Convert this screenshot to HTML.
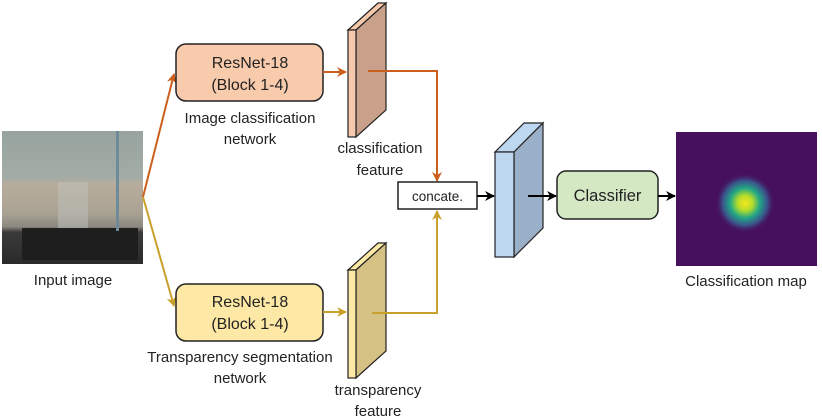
<!DOCTYPE html>
<html><head><meta charset="utf-8"><style>
html,body{margin:0;padding:0;background:#fff;}
svg{display:block;font-family:"Liberation Sans",sans-serif;}
</style></head><body>
<svg width="822" height="420" viewBox="0 0 822 420" xmlns="http://www.w3.org/2000/svg">
<defs>
<linearGradient id="ph" x1="0" y1="0" x2="0" y2="1">
<stop offset="0" stop-color="#98a4a0"/><stop offset="0.35" stop-color="#a3aca6"/>
<stop offset="0.4" stop-color="#b8ad9c"/><stop offset="0.62" stop-color="#a9a293"/>
<stop offset="0.72" stop-color="#8a877f"/><stop offset="0.76" stop-color="#3a3a3a"/>
<stop offset="1" stop-color="#2a2a2a"/></linearGradient>
<radialGradient id="blob" cx="0.5" cy="0.5" r="0.5">
<stop offset="0" stop-color="#f7e620"/><stop offset="0.25" stop-color="#b5dd2b"/>
<stop offset="0.5" stop-color="#21a685"/><stop offset="0.75" stop-color="#3b528b"/>
<stop offset="1" stop-color="#46105e" stop-opacity="0"/></radialGradient>
<marker id="ao" markerWidth="10" markerHeight="10" refX="9" refY="5" orient="auto" markerUnits="userSpaceOnUse"><path d="M0,0 L10,5 L0,10 L3,5z" fill="#cc5f1e"/></marker>
<marker id="ay" markerWidth="10" markerHeight="10" refX="9" refY="5" orient="auto" markerUnits="userSpaceOnUse"><path d="M0,0 L10,5 L0,10 L3,5z" fill="#c9a12a"/></marker>
<marker id="ak" markerWidth="10" markerHeight="10" refX="9" refY="5" orient="auto" markerUnits="userSpaceOnUse"><path d="M0,0 L10,5 L0,10 L3,5z" fill="#000"/></marker>
</defs>
<rect x="2" y="131" width="141" height="133" fill="url(#ph)"/>
<rect x="22" y="228" width="116" height="32" fill="#1e1e1e"/>
<rect x="116" y="131" width="3" height="100" fill="#6f8a99"/>
<rect x="58" y="182" width="30" height="46" fill="#bfc2bd" opacity="0.5"/>
<text x="73" y="285" font-size="15" text-anchor="middle" fill="#222">Input image</text>
<line x1="143" y1="197" x2="174" y2="74" stroke="#cc5f1e" stroke-width="2" marker-end="url(#ao)"/>
<line x1="143" y1="197" x2="174" y2="306" stroke="#c9a12a" stroke-width="2" marker-end="url(#ay)"/>
<rect x="176" y="44" width="147" height="57" rx="10" fill="#f9cbad" stroke="#222" stroke-width="1.5"/>
<text x="250" y="68" font-size="16" text-anchor="middle" fill="#222">ResNet-18</text>
<text x="250" y="90" font-size="16" text-anchor="middle" fill="#222">(Block 1-4)</text>
<text x="250" y="123" font-size="15" text-anchor="middle" fill="#222">Image classification</text>
<text x="250" y="144" font-size="15" text-anchor="middle" fill="#222">network</text>
<rect x="176" y="284" width="147" height="57" rx="10" fill="#fde9a5" stroke="#222" stroke-width="1.5"/>
<text x="250" y="307" font-size="16" text-anchor="middle" fill="#222">ResNet-18</text>
<text x="250" y="329" font-size="16" text-anchor="middle" fill="#222">(Block 1-4)</text>
<text x="240" y="362" font-size="15" text-anchor="middle" fill="#222">Transparency segmentation</text>
<text x="240" y="383" font-size="15" text-anchor="middle" fill="#222">network</text>
<line x1="323" y1="72" x2="346" y2="72" stroke="#cc5f1e" stroke-width="2" marker-end="url(#ao)"/>
<line x1="323" y1="312" x2="346" y2="312" stroke="#c9a12a" stroke-width="2" marker-end="url(#ay)"/>
<polygon points="348,30 378,3 386,3 356,30" fill="#f6c9ad" stroke="#222" stroke-width="1.2"/>
<polygon points="356,30 386,3 386,110 356,137" fill="#c9a08a" stroke="#222" stroke-width="1.2"/>
<rect x="348" y="30" width="8" height="107" fill="#f6c9ad" stroke="#222" stroke-width="1.2"/>
<polygon points="348,270 378,243 386,243 356,270" fill="#fde9a5" stroke="#222" stroke-width="1.2"/>
<polygon points="356,270 386,243 386,351 356,378" fill="#d6c184" stroke="#222" stroke-width="1.2"/>
<rect x="348" y="270" width="8" height="108" fill="#fde9a5" stroke="#222" stroke-width="1.2"/>
<text x="380" y="153" font-size="15" text-anchor="middle" fill="#222">classification</text>
<text x="380" y="175" font-size="15" text-anchor="middle" fill="#222">feature</text>
<text x="378" y="395" font-size="15" text-anchor="middle" fill="#222">transparency</text>
<text x="378" y="416" font-size="15" text-anchor="middle" fill="#222">feature</text>
<polyline points="368,71 437,71 437,181" fill="none" stroke="#cc5f1e" stroke-width="2" marker-end="url(#ao)"/>
<polyline points="372,313 437,313 437,211" fill="none" stroke="#c9a12a" stroke-width="2" marker-end="url(#ay)"/>
<rect x="398" y="182" width="79" height="27" fill="#fff" stroke="#222" stroke-width="1.5"/>
<text x="437.5" y="201" font-size="13.5" text-anchor="middle" fill="#222">concate.</text>
<line x1="477" y1="196" x2="494" y2="196" stroke="#000" stroke-width="2" marker-end="url(#ak)"/>
<polygon points="495,152 524,123 543,123 514,152" fill="#bcd7ef" stroke="#222" stroke-width="1.2"/>
<polygon points="514,152 543,123 543,228 514,257" fill="#9ab0c8" stroke="#222" stroke-width="1.2"/>
<rect x="495" y="152" width="19" height="105" fill="#bcd7ef" stroke="#222" stroke-width="1.2"/>
<line x1="528" y1="196" x2="556" y2="196" stroke="#000" stroke-width="2" marker-end="url(#ak)"/>
<rect x="557" y="171" width="101" height="48" rx="9" fill="#d5e8c4" stroke="#222" stroke-width="1.5"/>
<text x="607.5" y="201" font-size="16.5" text-anchor="middle" fill="#222">Classifier</text>
<line x1="658" y1="196" x2="675" y2="196" stroke="#000" stroke-width="2" marker-end="url(#ak)"/>
<rect x="676" y="132" width="141" height="134" fill="#46105e"/>
<circle cx="745" cy="203" r="30" fill="url(#blob)"/>
<text x="746" y="286" font-size="15" text-anchor="middle" fill="#222">Classification map</text>
</svg>
</body></html>
